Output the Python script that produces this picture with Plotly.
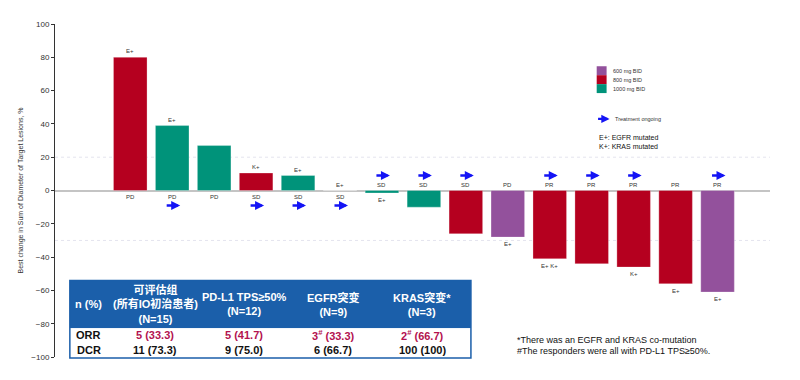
import plotly.graph_objects as go

# ---------------- data ----------------
patients = list(range(1, 16))
best_change = [80, 39, 27, 10.5, 9, 0, -1.5, -10, -26, -28, -41, -44, -46, -56, -61]
dose = ["800", "1000", "1000", "800", "1000", "1000", "1000", "1000", "800", "600",
        "800", "800", "800", "800", "600"]
response = ["PD", "PD", "PD", "SD", "SD", "SD", "SD", "SD", "SD", "PD",
            "PR", "PR", "PR", "PR", "PR"]
mutation = ["E+", "E+", "", "K+", "E+", "E+", "E+", "", "", "E+",
            "E+ K+", "", "K+", "E+", "E+"]
ongoing = [False, True, False, True, True, True, True, True, True, False,
           True, True, True, False, True]

dose_names = {"600": "600 mg BID", "800": "800 mg BID", "1000": "1000 mg BID"}
dose_colors = {"600": "#93519c", "800": "#b5001f", "1000": "#00937a"}

table_header = ["n (%)", "可评估组<br>(所有IO初治患者)<br>(N=15)", "PD-L1 TPS≥50%<br>(N=12)",
                "EGFR突变<br>(N=9)", "KRAS突变*<br>(N=3)"]
table_rows = ["ORR", "DCR"]
orr_values = ["5 (33.3)", "5 (41.7)", "3<sup>#</sup> (33.3)", "2<sup>#</sup> (66.7)"]
dcr_values = ["11 (73.3)", "9 (75.0)", "6 (66.7)", "100 (100)"]

footnotes = ["*There was an EGFR and KRAS co-mutation",
             "#The responders were all with PD-L1 TPS≥50%."]
mutation_key = ["E+: EGFR mutated", "K+: KRAS mutated"]

# ---------------- layout helpers ----------------
OFF = 8                      # default page body margin
FW, FH = 792, 372
ML, MR, MT, MB = 40, 30, 14, 23
PW, PH = FW - ML - MR, FH - MT - MB


def px(xp):
    """screen x pixel -> paper x"""
    return (xp - OFF - ML) / PW


def py(yp):
    """screen y pixel -> paper y"""
    return (OFF + MT + PH - yp) / PH


FONT = "Liberation Sans, Arial, Noto Sans CJK SC, sans-serif"
ARROW_BLUE = "#1414f5"

fig = go.Figure()

for d in ["600", "800", "1000"]:
    xs = [p for p, dd in zip(patients, dose) if dd == d]
    ys = [v for v, dd in zip(best_change, dose) if dd == d]
    fig.add_trace(go.Bar(x=xs, y=ys, name=dose_names[d], width=0.8,
                         marker=dict(color=dose_colors[d],
                                     line=dict(width=0.8, color="rgba(255,255,255,0.35)")),
                         showlegend=False, hoverinfo="x+y"))

annotations = []
for p, v, r, m, og in zip(patients, best_change, response, mutation, ongoing):
    pos = v >= 0
    annotations.append(dict(x=p, y=0, text=r, showarrow=False, yshift=-6 if pos else 6,
                            font=dict(size=6, color="#333", family=FONT)))
    if m:
        annotations.append(dict(x=p, y=v, text=m, showarrow=False, yshift=6 if pos else -7,
                                font=dict(size=6, color="#333", family=FONT)))
    if og:
        annotations.append(dict(x=p + 0.19, y=-9 if pos else 9, text="", showarrow=True,
                                ax=-15, ay=0, arrowhead=2, arrowsize=0.75, arrowwidth=2.4,
                                arrowcolor=ARROW_BLUE))

# custom legend
leg_y = [69, 78, 87]
for d, yy in zip(["600", "800", "1000"], leg_y):
    fig.add_shape(type="rect", xref="paper", yref="paper",
                  x0=px(595), x1=px(605), y0=py(yy + 4.5), y1=py(yy - 4.5),
                  fillcolor=dose_colors[d], line=dict(width=0))
    annotations.append(dict(xref="paper", yref="paper", x=px(609), y=py(yy), text=dose_names[d],
                            showarrow=False, xanchor="left", yanchor="middle",
                            font=dict(size=5.5, color="#333", family=FONT)))
annotations.append(dict(xref="paper", yref="paper", x=px(608), y=py(117.5), text="",
                        showarrow=True, ax=-13, ay=0, arrowhead=2, arrowsize=0.75,
                        arrowwidth=2.2, arrowcolor=ARROW_BLUE))
annotations.append(dict(xref="paper", yref="paper", x=px(611), y=py(117.5), text="Treatment ongoing",
                        showarrow=False, xanchor="left", yanchor="middle",
                        font=dict(size=5.5, color="#333", family=FONT)))
for t, yy in zip(mutation_key, [136, 145]):
    annotations.append(dict(xref="paper", yref="paper", x=px(595), y=py(yy), text=t,
                            showarrow=False, xanchor="left", yanchor="middle",
                            font=dict(size=7, color="#111", family=FONT)))

for t, yy in zip(footnotes, [340, 351]):
    annotations.append(dict(xref="paper", yref="paper", x=px(512), y=py(yy), text=t,
                            showarrow=False, xanchor="left", yanchor="middle",
                            font=dict(size=9, color="#111", family=FONT)))

# faint background guide lines
for gy in [20, -30]:
    fig.add_shape(type="line", xref="paper", yref="y", x0=0, x1=1, y0=gy, y1=gy,
                  line=dict(color="#e4e4ee", width=1, dash="dot"), layer="below")

# ---------------- summary table ----------------
TBL_BLUE = "#1b5faa"
ORR_COL = "#b3124f"
tbl_left, tbl_right, tbl_top, tbl_head_bot, tbl_bot = 63, 468, 280, 328, 358
col_centers = [82, 149, 239, 329, 419]
header_y = 304
row_ys = [335, 350]

fig.add_shape(type="rect", xref="paper", yref="paper",
              x0=px(tbl_left), x1=px(tbl_right), y0=py(tbl_head_bot), y1=py(tbl_top),
              fillcolor=TBL_BLUE, line=dict(width=0), layer="above")
fig.add_shape(type="rect", xref="paper", yref="paper",
              x0=px(tbl_left), x1=px(tbl_right), y0=py(tbl_bot), y1=py(tbl_head_bot),
              fillcolor="white", line=dict(width=0), layer="above")
fig.add_shape(type="rect", xref="paper", yref="paper",
              x0=px(tbl_left), x1=px(tbl_right), y0=py(tbl_bot), y1=py(tbl_top),
              fillcolor="rgba(0,0,0,0)", line=dict(color=TBL_BLUE, width=1.5), layer="above")

for h, cx in zip(table_header, col_centers):
    annotations.append(dict(xref="paper", yref="paper", x=px(cx), y=py(header_y),
                            text="<b>%s</b>" % h, showarrow=False, xanchor="center",
                            yanchor="middle", align="center",
                            font=dict(size=11, color="white", family=FONT)))
row_values = [orr_values, dcr_values]
row_colors = [ORR_COL, "#111"]
for lbl, vals, col, ry in zip(table_rows, row_values, row_colors, row_ys):
    annotations.append(dict(xref="paper", yref="paper", x=px(col_centers[0]), y=py(ry),
                            text="<b>%s</b>" % lbl, showarrow=False, xanchor="center",
                            yanchor="middle", font=dict(size=11, color="#111", family=FONT)))
    for v, cx in zip(vals, col_centers[1:]):
        annotations.append(dict(xref="paper", yref="paper", x=px(cx), y=py(ry),
                                text="<b>%s</b>" % v, showarrow=False, xanchor="center",
                                yanchor="middle", font=dict(size=11, color=col, family=FONT)))

fig.update_layout(
    width=FW, height=FH, margin=dict(l=ML, r=MR, t=MT, b=MB),
    paper_bgcolor="white", plot_bgcolor="white", barmode="overlay",
    annotations=annotations, showlegend=False,
    font=dict(family=FONT),
)
fig.update_xaxes(visible=False, range=[-0.794, 16.25])
fig.update_yaxes(range=[-100, 100], dtick=20, showgrid=False, showline=True, linecolor="#333",
                 linewidth=1, ticks="outside", ticklen=3, tickcolor="#333",
                 tickfont=dict(size=8, color="#333", family=FONT),
                 zeroline=True, zerolinecolor="#c4c4c4", zerolinewidth=1.5,
                 title=dict(text="Best change in Sum of Diameter of Target Lesions, %",
                            font=dict(size=7, color="#333", family=FONT), standoff=6))

fig.write_html("out.html")
